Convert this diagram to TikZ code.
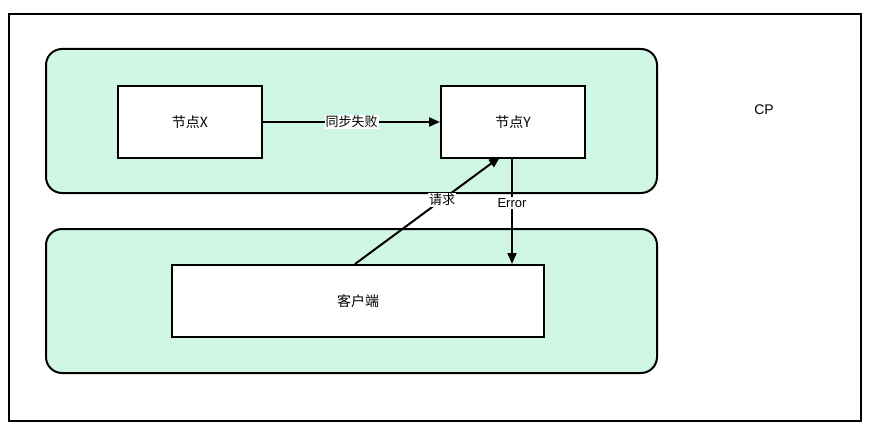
\documentclass[tikz,border=0pt]{standalone}
\usepackage{fontspec}
\setmainfont{Liberation Sans}
\newfontfamily\cjk{Noto Sans CJK SC}
\usetikzlibrary{arrows.meta}
\begin{document}
\begin{tikzpicture}[x=1pt,y=-1pt,
  grp/.style={draw=black,line width=2pt,fill=mint,rounded corners=16pt},
  box/.style={draw=black,line width=2pt,fill=white},
  arr/.style={line width=2pt,-{Triangle[length=11pt,width=9pt]}},
  lbl/.style={font=\cjk\fontsize{13}{15}\selectfont,fill=white,inner sep=1pt}]
\definecolor{mint}{HTML}{CFF7E3}
\useasboundingbox (0,0) rectangle (872,433);
\node[draw=black,line width=2pt,minimum width=852pt,minimum height=407pt,anchor=north west] (outer) at (8,13) {};
\node[grp,minimum width=611pt,minimum height=144pt,anchor=north west] (g1) at (45,48) {};
\node[grp,minimum width=611pt,minimum height=144pt,anchor=north west] (g2) at (45,228) {};
\node[box,minimum width=144pt,minimum height=72pt,anchor=north west,font=\cjk\fontsize{14}{16}\selectfont] (x) at (117,85) {节点X};
\node[box,minimum width=144pt,minimum height=72pt,anchor=north west,font=\cjk\fontsize{14}{16}\selectfont] (y) at (440,85) {节点Y};
\node[box,minimum width=372pt,minimum height=72pt,anchor=north west,font=\cjk\fontsize{14}{16}\selectfont] (c) at (171,264) {客户端};
\node[font=\fontsize{14}{16}\selectfont] (cp) at (764,110) {CP};
\draw[arr] (x) -- node[lbl] {同步失败} (y);
\coordinate (cs) at (355,264);
\coordinate (yt) at (500,157);
\draw[arr] (cs) -- (yt) node[lbl,pos=0.6] {请求};
\coordinate (ys) at (512,157);
\coordinate (ce) at (512,264);
\draw[arr] (ys) -- (ce) node[lbl,pos=0.43,font=\fontsize{13}{15}\selectfont] {Error};
\end{tikzpicture}
\end{document}
